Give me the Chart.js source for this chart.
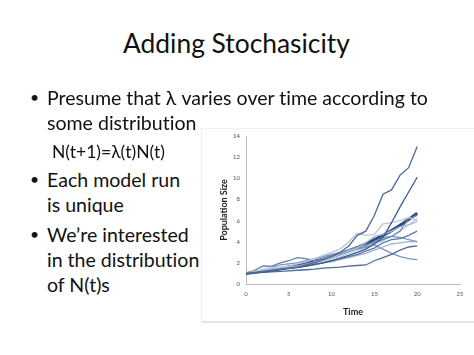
<!DOCTYPE html>
<html><head><meta charset="utf-8">
<script src="https://cdn.jsdelivr.net/npm/chart.js@4.4.0/dist/chart.umd.min.js"></script>
<style>
html,body{margin:0;padding:0;background:#fff;width:474px;height:355px;overflow:hidden;}
.t{position:absolute;white-space:nowrap;font-family:Lato,"Open Sans",sans-serif;line-height:1;color:#111;font-variant-ligatures:none;font-feature-settings:"liga" 0;}
#box{position:absolute;left:201px;top:128px;width:272px;height:192px;border:1px solid #e2e2e2;border-top-color:#f2f2f2;border-left-color:#eeeeee;background:#fff;box-shadow:1px 1px 1px #e8e8e8;}
#cv{position:absolute;left:201px;top:128px;}
</style></head><body>
<div id="box"></div>
<canvas id="cv" width="273" height="193" style="width:273px;height:193px"></canvas>
<script>
// ---- data ----
const times = [0,1,2,3,4,5,6,7,8,9,10,11,12,13,14,15,16,17,18,19,20];
const run1  = [1,1.1,1.2,1.3,1.4,1.5,1.6,1.8,2.0,2.3,2.6,3.0,3.6,4.6,5.0,6.5,8.5,8.9,10.3,11.0,13.0];
const run2  = [1,1.05,1.15,1.25,1.35,1.45,1.55,1.7,1.85,2.0,2.2,2.45,2.7,3.0,3.3,3.8,4.4,5.8,7.3,8.7,10.1];
const run3  = [1,1.2,1.4,1.5,1.6,1.7,1.9,2.1,2.4,2.7,3.0,3.3,4.0,4.8,4.6,4.7,5.7,5.8,6.0,6.3,6.0];
const run4  = [1,1.1,1.3,1.4,1.5,1.6,1.7,1.8,2.0,2.2,2.5,2.8,3.1,3.4,3.9,4.5,4.7,5.0,5.4,5.6,5.9];
const run5  = [1,1.1,1.2,1.3,1.4,1.5,1.6,1.7,1.85,2.0,2.2,2.4,2.6,2.8,3.1,3.4,3.9,4.2,4.3,4.6,5.0];
const run6  = [1,1.1,1.2,1.35,1.5,1.6,1.7,1.9,2.1,2.4,2.7,3.0,3.2,3.5,3.6,4.0,4.4,4.5,4.4,4.2,4.0];
const run7  = [1,1.15,1.3,1.4,1.45,1.5,1.6,1.7,1.8,2.0,2.1,2.3,2.5,2.7,2.9,3.2,3.5,3.8,3.9,4.0,4.0];
const run8  = [1,1.05,1.1,1.15,1.2,1.25,1.3,1.35,1.4,1.5,1.55,1.6,1.7,1.75,1.8,2.2,2.5,2.8,3.2,3.5,3.6];
const run9  = [1,1.3,1.7,1.6,1.8,1.9,2.0,2.2,2.4,2.6,2.8,3.0,3.2,3.3,3.5,3.7,3.3,2.9,2.6,2.4,2.3];
const run10 = [1,1.3,1.7,1.7,2.0,2.2,2.5,2.4,2.2,2.3,2.5,2.8,3.1,3.4,3.7,3.9,4.2,4.5,5.0,6.2,6.5];
const run11 = [1,1.1,1.2,1.3,1.4,1.5,1.6,1.7,1.9,2.1,2.4,2.6,2.9,3.2,3.4,3.7,4.1,4.5,5.0,5.6,6.2];
const meanRun = [1,1.1,1.2,1.3,1.45,1.6,1.75,1.95,2.15,2.35,2.6,2.85,3.15,3.45,3.8,4.2,4.6,5.05,5.55,6.1,6.7];
const xTicks = [0,5,10,15,20,25];
const yTicks = [0,2,4,6,8,10,12,14];

// ---- slide text ----
const lines = [
  {s:"Adding Stochasicity", x:123, base:53, w:227, size:'title'},
  {s:"•", x:30, base:104, size:'bul'},
  {s:"Presume that λ varies over time according to", x:47, base:105, w:382, size:'body'},
  {s:"some distribution", x:47, base:130, size:'body'},
  {s:"N(t+1)=λ(t)N(t)", x:52, base:159, w:113, size:'small'},
  {s:"•", x:30, base:186, size:'bul'},
  {s:"Each model run", x:47, base:187, size:'body'},
  {s:"is unique", x:47, base:212, size:'body'},
  {s:"•", x:30, base:241, size:'bul'},
  {s:"We’re interested", x:47, base:242, size:'body'},
  {s:"in the distribution", x:47, base:267, size:'body'},
  {s:"of N(t)s", x:47, base:292, size:'body'}
];
const mc = document.createElement('canvas').getContext('2d');
function fit(s, w){ mc.font = '100px Lato'; return 100*w/mc.measureText(s).width; }
const sizes = {
  title: fit(lines[0].s, lines[0].w),
  body: fit(lines[2].s, lines[2].w),
  small: fit(lines[4].s, lines[4].w)
};
sizes.bul = sizes.body*0.8;
lines.forEach(L=>{
  const d=document.createElement('div'); d.className='t'; d.textContent=L.s;
  const f=sizes[L.size]; d.style.fontSize=f+'px';
  d.style.left=L.x+'px'; d.style.top=(L.base-0.887*f)+'px';
  document.body.appendChild(d);
});

// ---- chart ----
const runs = [run1,run2,run3,run4,run5,run6,run7,run8,run9,run10,run11];
const colors = ['#4c6a98','#3e5b8b','#bcc6d6','#a9bad4','#5a79a9','#7f98c0','#9cb0cf','#4d6a99','#7c93bd','#6680ac','#c2d2ea'];
const pts = arr => times.map((t,i)=>({x:t,y:arr[i]}));
const datasets = runs.map((r,i)=>({data:pts(r),borderColor:colors[i],borderWidth:1.3,pointRadius:0,tension:0,fill:false}));
datasets.push({data:pts(meanRun),borderColor:'#2c4a7b',borderWidth:3,pointRadius:0,tension:0,fill:false});

new Chart(document.getElementById('cv'),{
  type:'line',
  data:{datasets},
  options:{
    responsive:false, animation:false,
    plugins:{legend:{display:false},tooltip:{enabled:false}},
    layout:{padding:{left:18,right:14,top:8,bottom:4}},
    scales:{
      x:{type:'linear',min:0,max:25,
        afterBuildTicks:s=>{s.ticks=xTicks.map(v=>({value:v}));},
        grid:{display:false,drawTicks:true,tickLength:3},
        border:{color:'#bdbdbd',width:1},
        ticks:{color:'#555',font:{family:'Lato',size:6},padding:3,maxRotation:0},
        title:{display:true,text:'Time',color:'#222',font:{family:'Lato',size:9,weight:'bold'},padding:{top:4,bottom:0}},
        afterFit:s=>{s.height=33;}
      },
      y:{min:0,max:14,
        afterBuildTicks:s=>{s.ticks=yTicks.map(v=>({value:v}));},
        grid:{display:false,drawTicks:true,tickLength:3},
        border:{color:'#bdbdbd',width:1},
        ticks:{color:'#555',font:{family:'Lato',size:6},padding:3},
        title:{display:true,text:'Population Size',color:'#222',font:{family:'Lato',size:9,weight:'bold'},padding:{top:0,bottom:2}},
        afterFit:s=>{s.width=27;}
      }
    }
  }
});
</script>
</body></html>
